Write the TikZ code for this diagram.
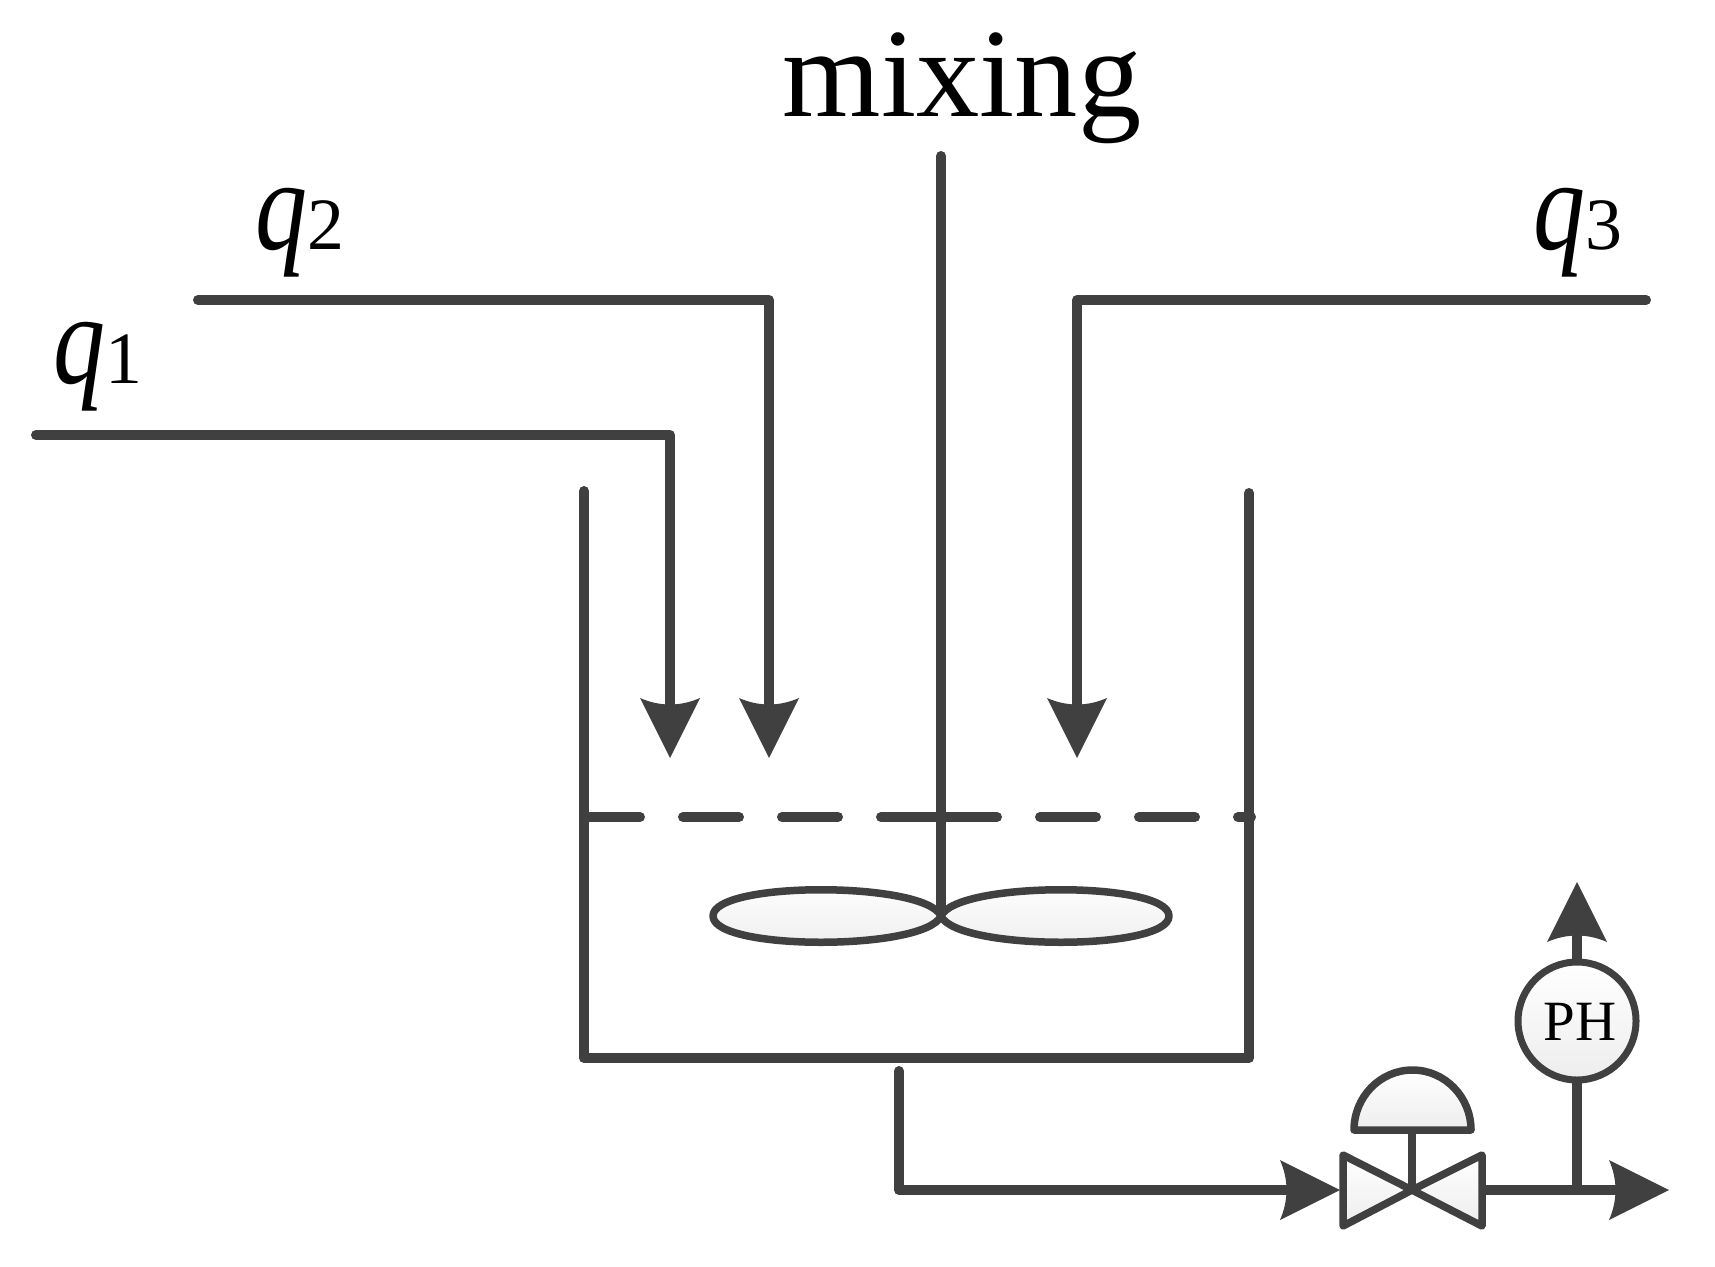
\documentclass[tikz,border=0pt]{standalone}
\usepackage{fontspec}
\setmainfont{Liberation Serif}
\newfontfamily\qfont[FakeStretch=0.8]{Liberation Serif}
\usetikzlibrary{arrows.meta,shapes.geometric}
\definecolor{linegray}{HTML}{404040}
\pgfdeclarearrow{
  name=Barb,
  setup code={\pgfarrowssettipend{0pt}\pgfarrowssetbackend{-0.6cm}\pgfarrowssetlineend{-0.5cm}},
  drawing code={
    \pgfpathmoveto{\pgfpoint{0pt}{0pt}}
    \pgfpathlineto{\pgfpoint{-0.6cm}{0.3cm}}
    \pgfpathquadraticcurveto{\pgfpoint{-0.47cm}{0cm}}{\pgfpoint{-0.6cm}{-0.3cm}}
    \pgfpathclose
    \pgfusepathqfill
  }
}
\tikzset{
  pipe/.style={draw=linegray,line width=0.1cm,line cap=round,line join=round},
  flow/.style={pipe,-{Barb}},
  thinpart/.style={draw=linegray,line width=0.075cm,line join=round,top color=white,bottom color=black!7},
  label/.style={anchor=base west,inner sep=0pt,text=black}
}
\newcommand{\qlabel}[1]{{\qfont\itshape\fontsize{37}{37}\selectfont q}{\fontsize{21}{22}\selectfont #1}}
\begin{document}
\begin{tikzpicture}
\useasboundingbox (0,0) rectangle (17.15,12.66);
% feed lines
\coordinate (qa0) at (0.36,8.31);
\coordinate (qa1) at (6.70,8.31);
\coordinate (qa2) at (6.70,5.08);
\coordinate (qb0) at (1.98,9.66);
\coordinate (qb1) at (7.69,9.66);
\coordinate (qb2) at (7.69,5.08);
\coordinate (qc0) at (16.46,9.66);
\coordinate (qc1) at (10.77,9.66);
\coordinate (qc2) at (10.77,5.08);
\draw[flow] (qa0) -- (qa1) -- (qa2);
\draw[flow] (qb0) -- (qb1) -- (qb2);
\draw[flow] (qc0) -- (qc1) -- (qc2);
\node[label] (qaText) at (0.53,8.83) {\qlabel{1}};
\node[label] (qbText) at (2.55,10.17) {\qlabel{2}};
\node[label] (qcText) at (15.33,10.17) {\qlabel{3}};
% tank
\coordinate (tankTL) at (5.84,7.75);
\coordinate (tankBL) at (5.84,2.08);
\coordinate (tankBR) at (12.49,2.08);
\coordinate (tankTR) at (12.49,7.73);
\draw[pipe] (tankTL) -- (tankBL) -- (tankBR) -- (tankTR);
% liquid level
\coordinate (levelL) at (5.84,4.49);
\coordinate (levelM) at (9.41,4.49);
\coordinate (levelR) at (12.51,4.49);
\draw[pipe,dash pattern=on 0.56cm off 0.43cm] (levelL) -- (levelM);
\draw[pipe,dash pattern=on 0.56cm off 0.43cm] (levelM) -- (levelR);
% mixer
\coordinate (shaftTop) at (9.41,11.10);
\coordinate (shaftEnd) at (9.41,3.49);
\draw[pipe] (shaftTop) -- (shaftEnd);
\coordinate (bladeTip) at (9.41,3.50);
\coordinate (bladeL) at (7.13,3.50);
\coordinate (bladeR) at (11.69,3.50);
\draw[thinpart] (bladeTip) .. controls (9.25,3.85) and (7.13,3.85) .. (bladeL)
  .. controls (7.13,3.15) and (9.25,3.15) .. (bladeTip);
\draw[thinpart] (bladeTip) .. controls (9.57,3.85) and (11.69,3.85) .. (bladeR)
  .. controls (11.69,3.15) and (9.57,3.15) .. (bladeTip);
\node[label] (mixText) at (7.82,11.49) {\fontsize{36}{36}\selectfont mixing};
% outlet
\coordinate (outTop) at (8.99,1.95);
\coordinate (outBend) at (8.99,0.76);
\coordinate (valveC) at (14.12,0.76);
\coordinate (valveIn) at (13.40,0.76);
\coordinate (valveOut) at (14.82,0.76);
\coordinate (branch) at (15.77,0.76);
\coordinate (outEnd) at (16.69,0.76);
\draw[flow] (outTop) -- (outBend) -- (valveIn);
\draw[flow] (valveOut) -- (outEnd);
% valve
\draw[thinpart] (valveC) -- (13.43,1.11) -- (13.43,0.40) -- cycle;
\draw[thinpart] (valveC) -- (14.82,1.11) -- (14.82,0.40) -- cycle;
\coordinate (stemTop) at (14.12,1.36);
\draw[draw=linegray,line width=0.075cm] (valveC) -- (stemTop);
\draw[thinpart] (13.54,1.36) arc[start angle=180,end angle=0,x radius=0.585,y radius=0.60] -- cycle;
% PH sensor
\node[draw=linegray,line width=0.07cm,circle,inner sep=0pt,minimum size=1.18cm,top color=white,bottom color=black!7] (phNode) at (15.77,2.45) {};
\node[label,anchor=base] (phText) at (15.80,2.26) {\fontsize{16.2}{17}\selectfont PH};
\coordinate (phTip) at (15.77,3.84);
\draw[pipe] (branch) -- (phNode);
\draw[flow] (phNode) -- (phTip);
\end{tikzpicture}
\end{document}
